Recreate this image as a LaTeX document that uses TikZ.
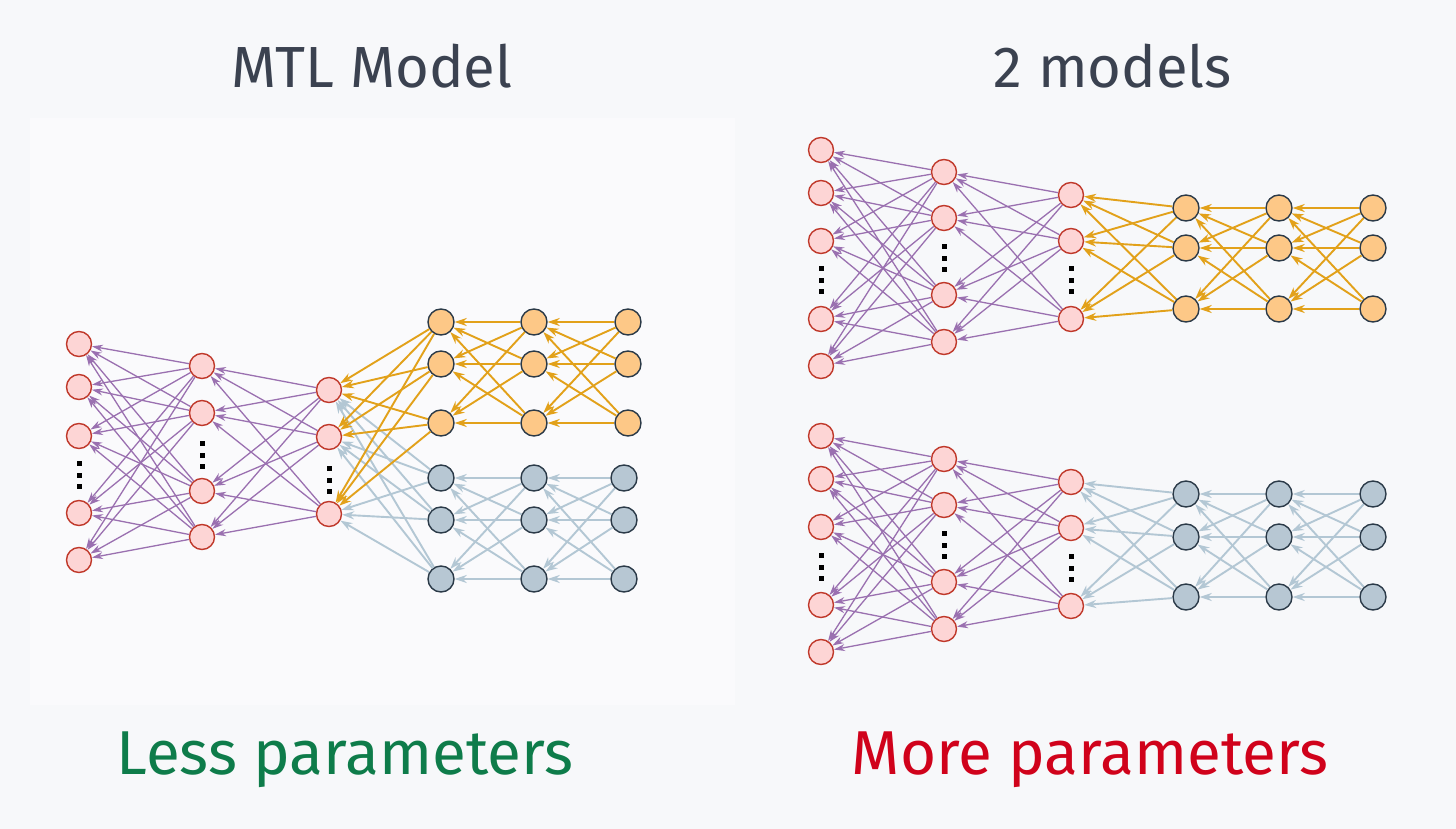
\documentclass[tikz,border=0pt]{standalone}
\usepackage{fontspec}
\setmainfont{Fira Sans}
\usetikzlibrary{arrows.meta}
\definecolor{bg}{HTML}{F7F8FA}
\definecolor{redfill}{HTML}{FDD5D5}
\definecolor{redline}{HTML}{C0392B}
\definecolor{orfill}{HTML}{FDC887}
\definecolor{bluefill}{HTML}{B7C7D3}
\definecolor{darkline}{HTML}{2B3A48}
\definecolor{purp}{HTML}{9A70B0}
\definecolor{oredge}{HTML}{E2A11A}
\definecolor{bledge}{HTML}{B3C7D4}
\definecolor{title}{HTML}{3B4250}
\definecolor{grn}{HTML}{0E7C4A}
\definecolor{rd}{HTML}{D0021B}
\tikzset{
 rn/.style={circle,draw=redline,fill=redfill,line width=1.4pt,minimum size=25pt,inner sep=0},
 on/.style={circle,draw=darkline,fill=orfill,line width=1.4pt,minimum size=26pt,inner sep=0},
 bn/.style={circle,draw=darkline,fill=bluefill,line width=1.4pt,minimum size=26pt,inner sep=0},
 pe/.style={draw=purp,line width=1.3pt,-{Stealth[length=11pt,width=7pt]}},
 oe/.style={draw=oredge,line width=1.9pt,-{Stealth[length=12pt,width=8pt]}},
 be/.style={draw=bledge,line width=1.9pt,-{Stealth[length=12pt,width=8pt]}},
 vdts/.pic={\fill[black] (-2.5,-14) rectangle (2.5,-9); \fill[black] (-2.5,-2.5) rectangle (2.5,2.5); \fill[black] (-2.5,9) rectangle (2.5,14);},
 ttl/.style={font=\fontsize{58}{62}\selectfont,text=title},
 btm/.style={font=\fontsize{62}{66}\selectfont},
}
\begin{document}
\begin{tikzpicture}[x=1pt,y=-1pt]
\fill[bg] (0,0) rectangle (1456,829);
\useasboundingbox (0,0) rectangle (1456,829);
\fill[white!35!bg] (30,118) rectangle (735,705);
\node[ttl] (t1) at (372,66) {MTL Model};
\node[ttl] (t2) at (1113,66) {2 models};
\node[btm,text=grn] (b1) at (345,760) {Less parameters};
\node[btm,text=rd] (b2) at (1090,760) {More parameters};
\foreach \y [count=\i] in {344,387,436,513,560} \node[rn] (a\i) at (79,\y) {};
\foreach \y [count=\i] in {366,413,491,537} \node[rn] (b\i) at (202,\y) {};
\foreach \y [count=\i] in {390,437,514} \node[rn] (c\i) at (329,\y) {};
\foreach \y [count=\i] in {322,364,423} {\node[on] (o1\i) at (441,\y) {}; \node[on] (o2\i) at (534,\y) {}; \node[on] (o3\i) at (628,\y) {};}
\foreach \y [count=\i] in {478,520,579} {\node[bn] (u1\i) at (441,\y) {}; \node[bn] (u2\i) at (534,\y) {}; \node[bn] (u3\i) at (624,\y) {};}
\pic at (79,475) {vdts};
\pic at (202,455) {vdts};
\pic at (329,480) {vdts};
\foreach \j in {1,...,4} \foreach \i in {1,...,5} \draw[pe] (b\j) -- (a\i);
\foreach \j in {1,...,3} \foreach \i in {1,...,4} \draw[pe] (c\j) -- (b\i);
\foreach \j in {1,...,3} \foreach \i in {1,...,3} \draw[be] (u1\j) -- (c\i);
\foreach \j in {1,...,3} \foreach \i in {1,...,3} \draw[oe] (o1\j) -- (c\i);
\foreach \j in {1,...,3} \foreach \i in {1,...,3} {\draw[oe] (o2\j) -- (o1\i); \draw[oe] (o3\j) -- (o2\i); \draw[be] (u2\j) -- (u1\i); \draw[be] (u3\j) -- (u2\i);}
\foreach \y [count=\i] in {150,193,241,319,366} {\node[rn] (pa\i) at (821,\y) {}; \node[rn] (qa\i) at (821,\y+286) {};}
\foreach \y [count=\i] in {172,218,295,342} {\node[rn] (pb\i) at (944,\y) {}; \node[rn] (qb\i) at (944,\y+287) {};}
\foreach \y [count=\i] in {195,241,319} {\node[rn] (pc\i) at (1071,\y) {}; \node[rn] (qc\i) at (1071,\y+287) {};}
\foreach \y [count=\i] in {208,248,309} {\node[on] (po1\i) at (1186,\y) {}; \node[on] (po2\i) at (1279,\y) {}; \node[on] (po3\i) at (1373,\y) {};}
\foreach \y [count=\i] in {494,537,597} {\node[bn] (qu1\i) at (1186,\y) {}; \node[bn] (qu2\i) at (1279,\y) {}; \node[bn] (qu3\i) at (1373,\y) {};}
\pic at (821,280) {vdts};
\pic at (944,258) {vdts};
\pic at (1071,280) {vdts};
\pic at (821,567) {vdts};
\pic at (944,545) {vdts};
\pic at (1071,568) {vdts};
\foreach \j in {1,...,4} \foreach \i in {1,...,5} {\draw[pe] (pb\j) -- (pa\i); \draw[pe] (qb\j) -- (qa\i);}
\foreach \j in {1,...,3} \foreach \i in {1,...,4} {\draw[pe] (pc\j) -- (pb\i); \draw[pe] (qc\j) -- (qb\i);}
\foreach \j in {1,...,3} \foreach \i in {1,...,3} {\draw[oe] (po1\j) -- (pc\i); \draw[be] (qu1\j) -- (qc\i);
  \draw[oe] (po2\j) -- (po1\i); \draw[oe] (po3\j) -- (po2\i); \draw[be] (qu2\j) -- (qu1\i); \draw[be] (qu3\j) -- (qu2\i);}
\end{tikzpicture}
\end{document}
